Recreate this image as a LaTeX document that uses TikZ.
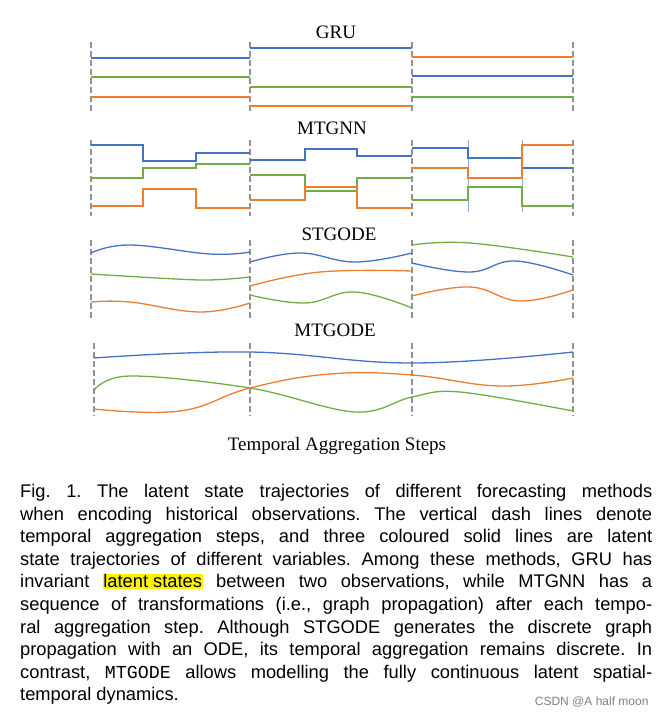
\documentclass[tikz,border=0pt]{standalone}
\usepackage{fontspec}
\setmainfont{Liberation Serif}
\setsansfont{Liberation Sans}
\setmonofont{Liberation Mono}
\begin{document}
\begin{tikzpicture}[x=1pt,y=-1pt,
  dl/.style={dash pattern=on 6pt off 3pt, line width=1.8pt, gray!85},
  bl/.style={line width=1.3pt, color={rgb,255:red,68;green,114;blue,196}},
  gr/.style={line width=1.3pt, color={rgb,255:red,112;green,173;blue,71}},
  og/.style={line width=1.3pt, color={rgb,255:red,237;green,125;blue,49}},
  ttl/.style={font=\fontsize{19}{22}\selectfont}]
\useasboundingbox (0,0) rectangle (666,718);
% GRU
\foreach \x in {91,250,412,573} \draw[dl] (\x,42) -- (\x,113);
\node[ttl] (t1) at (336,32) {GRU};
\draw[bl] (91,58)--(250,58) (250,48)--(412,48) (412,76)--(573,76);
\draw[gr] (91,77)--(250,77) (250,87)--(412,87) (412,97)--(573,97);
\draw[og] (91,97)--(250,97) (250,106)--(412,106) (412,57)--(573,57);
% MTGNN
\node[ttl] (t2) at (332,128) {MTGNN};
\draw[line width=0.8pt, color={rgb,255:red,140;green,170;blue,225}] (468,140)--(468,212) (522,140)--(522,212);
\foreach \x in {91,250,412,573} \draw[dl] (\x,140) -- (\x,216);
\draw[bl] (91,145)-|(143,161)-|(196,153)--(250,153);
\draw[gr] (91,178)-|(143,168)-|(196,164)--(250,164);
\draw[og] (91,206)-|(143,189)-|(196,208)--(250,208);
\draw[bl] (250,160)-|(305,149)-|(357,156)--(412,156);
\draw[gr] (250,175)-|(305,191)-|(357,178)--(412,178);
\draw[og] (250,200)-|(305,187)-|(357,208)--(412,208);
\draw[bl] (412,148)-|(468,158)-|(522,168)--(573,168);
\draw[og] (412,168)-|(468,178)-|(522,145)--(573,145);
\draw[gr] (412,200)-|(468,187)-|(522,206)--(573,206);
% STGODE
\node[ttl] (t3) at (339,234) {STGODE};
\foreach \x in {91,250,412,573} \draw[dl] (\x,240) -- (\x,318);
\draw[bl] plot[smooth,tension=0.7] coordinates {(91,253)(130,245)(210,254)(250,252)};
\draw[gr] plot[smooth] coordinates {(91,274)(200,280)(250,277)};
\draw[og] plot[smooth,tension=0.7] coordinates {(91,302)(130,302)(200,312)(250,303)};
\draw[bl] plot[smooth,tension=0.7] coordinates {(250,262)(300,253)(355,262)(412,253)};
\draw[og] plot[smooth,tension=0.7] coordinates {(250,286)(320,272)(412,271)};
\draw[gr] plot[smooth,tension=0.7] coordinates {(250,295)(305,303)(355,292)(412,308)};
\draw[gr] plot[smooth,tension=0.7] coordinates {(412,245)(470,243)(573,257)};
\draw[bl] plot[smooth,tension=0.7] coordinates {(412,263)(470,272)(515,261)(573,275)};
\draw[og] plot[smooth,tension=0.7] coordinates {(412,296)(470,287)(520,301)(573,290)};
% MTGODE
\node[ttl] (t4) at (335,330) {MTGODE};
\foreach \x in {94,250,412,573} \draw[dl] (\x,343) -- (\x,416);
\draw[bl] plot[smooth,tension=0.7] coordinates {(94,358)(250,352)(412,363)(573,352)};
\draw[gr] plot[smooth,tension=0.6] coordinates {(94,390)(130,376)(250,388)(355,412)(412,397)(460,392)(573,411)};
\draw[og] plot[smooth,tension=0.7] coordinates {(94,409)(180,411)(250,388)(330,374)(412,375)(500,386)(573,378)};
\node[ttl] (t5) at (337,446) {Temporal Aggregation Steps};
% caption
\node[anchor=north west, inner sep=0pt, text width=632pt, align=justify,
  font=\sffamily\fontsize{18.3}{22.6}\selectfont] (cap) at (20,484) {\frenchspacing\setlength{\fboxsep}{0.5pt}Fig. 1. The latent state trajectories of different forecasting methods\linebreak when encoding historical observations. The vertical dash lines denote\linebreak temporal aggregation steps, and three coloured solid lines are latent\linebreak state trajectories of different variables. Among these methods, GRU has\linebreak invariant \colorbox{yellow}{latent states} between two observations, while MTGNN has a\linebreak sequence of transformations (i.e., graph propagation) after each tempo-\linebreak ral aggregation step. Although STGODE generates the discrete graph\linebreak propagation with an ODE, its temporal aggregation remains discrete. In\linebreak contrast, \texttt{MTGODE} allows modelling the fully continuous latent spatial-\linebreak temporal dynamics.};
\node[anchor=east, font=\sffamily\fontsize{12}{14}\selectfont, gray] (wm) at (652,702) {CSDN @A half moon};
\end{tikzpicture}
\end{document}
